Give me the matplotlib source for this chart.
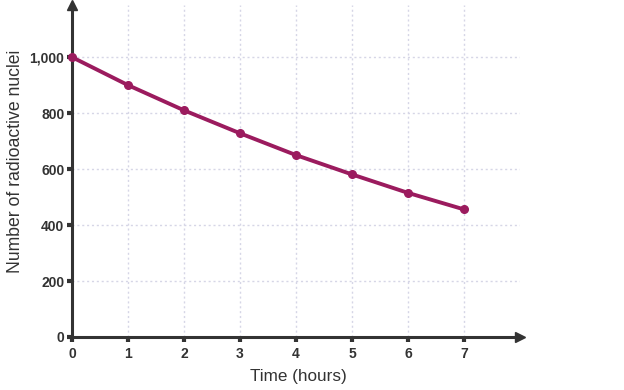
import matplotlib.pyplot as plt
from matplotlib.ticker import FuncFormatter

plt.rcParams['font.family'] = ['Liberation Sans', 'DejaVu Sans']

hours = [0, 1, 2, 3, 4, 5, 6, 7]
nuclei = [1000, 900, 810, 728, 650, 581, 515, 456]
yticks = [0, 200, 400, 600, 800, 1000]

line_col = "#9b1b5e"
axis_col = "#333333"

fig = plt.figure(figsize=(6.24, 3.9), dpi=100)
ax = fig.add_axes([0.1154, 0.1359, 0.7179, 0.851])

ax.plot(hours, nuclei, color=line_col, lw=2.8, marker="o", ms=5.5, zorder=3, clip_on=False)

ax.set_xlim(0, 8)
ax.set_ylim(0, 1186)
ax.set_xticks(hours)
ax.set_yticks(yticks)
ax.yaxis.set_major_formatter(FuncFormatter(lambda v, p: f"{int(v):,}"))

ax.grid(True, color="#d6d6e6", linestyle=(0, (1.5, 2)), lw=1)
ax.set_axisbelow(True)

for s in ["top", "right"]:
    ax.spines[s].set_visible(False)
for s in ["left", "bottom"]:
    ax.spines[s].set_color(axis_col)
    ax.spines[s].set_linewidth(2.2)

ax.tick_params(direction="out", length=3.5, width=3, color=axis_col,
               labelsize=10, labelcolor=axis_col)
ax.tick_params(axis="x", pad=4)
ax.tick_params(axis="y", pad=2)
for lab in ax.get_xticklabels() + ax.get_yticklabels():
    lab.set_fontweight("bold")

# arrow heads
ax.plot(1, 0, ">", color=axis_col, ms=6.5, transform=ax.transAxes, clip_on=False)
ax.plot(0, 1, "^", color=axis_col, ms=6.5, transform=ax.transAxes, clip_on=False)

ax.set_xlabel("Time (hours)", fontsize=12.3, color=axis_col)
ax.set_ylabel("Number of radioactive nuclei", fontsize=12.7, color=axis_col)
ax.xaxis.set_label_coords(0.505, -0.095)
ax.yaxis.set_label_coords(-0.108, 0.53)

fig.savefig("out.png", dpi=100)
